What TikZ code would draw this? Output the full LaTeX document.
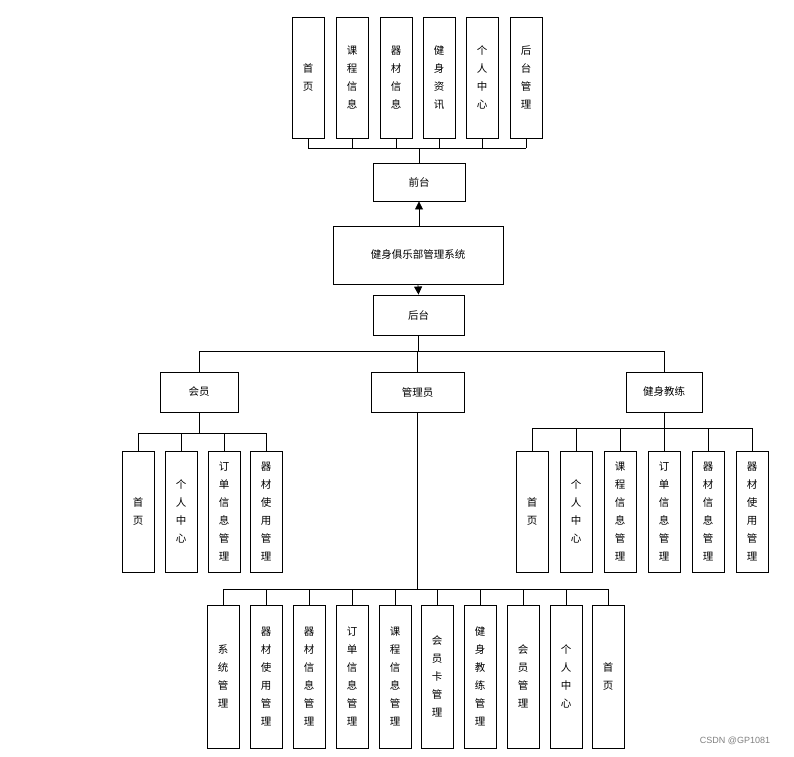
\documentclass[tikz,border=0pt]{standalone}
\usepackage{fontspec}
\newfontfamily\cjk{Noto Sans CJK SC}
\usetikzlibrary{arrows.meta}
\begin{document}
\begin{tikzpicture}[x=1pt,y=-1pt,
  box/.style={draw,line width=0.9pt,font=\cjk\fontsize{10.5}{18}\selectfont,inner sep=0pt,align=center},
  vb/.style={box,minimum width=32pt,minimum height=121pt},
  vbl/.style={box,minimum width=32pt,minimum height=143pt},
  hb/.style={box,minimum height=40pt},
  ln/.style={line width=0.8pt}]
\useasboundingbox (0,0) rectangle (794,756);
% top
\foreach \x/\t [count=\i] in {308/首\\页,352/课\\程\\信\\息,396/器\\材\\信\\息,439/健\\身\\资\\讯,482/个\\人\\中\\心,526/后\\台\\管\\理}
  \node[vb] (t\i) at (\x,77.5) {\t};
\node[hb,minimum width=92pt,minimum height=38pt] (qt) at (419,182) {前台};
\node[hb,minimum width=170pt,minimum height=58pt] (sys) at (418,255) {健身俱乐部管理系统};
\node[hb,minimum width=91pt] (ht) at (418.5,315) {后台};
\coordinate (tb) at (0,148);
\foreach \i in {1,...,6} \draw[ln] (t\i.south) -- (t\i.south|-tb);
\draw[ln] (t1.south|-tb) -- (t6.south|-tb);
\draw[ln] (qt.north) -- (qt.north|-tb);
\draw[ln,-{Triangle[length=8pt,width=8pt]}] (sys.north-|qt) -- (qt.south);
\draw[ln,-{Triangle[length=8pt,width=8pt]}] (sys.south) -- (ht.north);
% roles
\node[hb,minimum width=78pt] (hy) at (199,392) {会员};
\node[hb,minimum width=93pt] (gl) at (417.5,392) {管理员};
\node[hb,minimum width=76pt] (jl) at (664,392) {健身教练};
\coordinate (rb) at (0,351);
\draw[ln] (ht.south) -- (ht.south|-rb);
\draw[ln] (hy.north|-rb) -- (jl.north|-rb);
\foreach \n in {hy,gl,jl} \draw[ln] (\n.north) -- (\n.north|-rb);
% member
\foreach \x/\t [count=\i] in {138/首\\页,181/个\\人\\中\\心,224/订\\单\\信\\息\\管\\理,266/器\\材\\使\\用\\管\\理}
  \node[vb] (m\i) at (\x,511.5) {\t};
\coordinate (mb) at (0,433);
\draw[ln] (hy.south) -- (hy.south|-mb);
\draw[ln] (m1.north|-mb) -- (m4.north|-mb);
\foreach \i in {1,...,4} \draw[ln] (m\i.north) -- (m\i.north|-mb);
% coach
\foreach \x/\t [count=\i] in {532/首\\页,576/个\\人\\中\\心,620/课\\程\\信\\息\\管\\理,664/订\\单\\信\\息\\管\\理,708/器\\材\\信\\息\\管\\理,752/器\\材\\使\\用\\管\\理}
  \node[vb] (c\i) at (\x,511.5) {\t};
\coordinate (cb) at (0,428);
\draw[ln] (jl.south) -- (jl.south|-cb);
\draw[ln] (c1.north|-cb) -- (c6.north|-cb);
\foreach \i in {1,...,6} \draw[ln] (c\i.north) -- (c\i.north|-cb);
% admin
\foreach \x/\t [count=\i] in {223/系\\统\\管\\理,266/器\\材\\使\\用\\管\\理,309/器\\材\\信\\息\\管\\理,352/订\\单\\信\\息\\管\\理,395/课\\程\\信\\息\\管\\理,437/会\\员\\卡\\管\\理,480/健\\身\\教\\练\\管\\理,523/会\\员\\管\\理,566/个\\人\\中\\心,608/首\\页}
  \node[vbl] (a\i) at (\x,676.5) {\t};
\coordinate (ab) at (0,589);
\draw[ln] (gl.south) -- (gl.south|-ab);
\draw[ln] (a1.north|-ab) -- (a10.north|-ab);
\foreach \i in {1,...,10} \draw[ln] (a\i.north) -- (a\i.north|-ab);
\node[font=\fontspec{Liberation Sans}\fontsize{9}{10}\selectfont,text=gray] (wm) at (735,741) {CSDN @GP1081};
\end{tikzpicture}
\end{document}
